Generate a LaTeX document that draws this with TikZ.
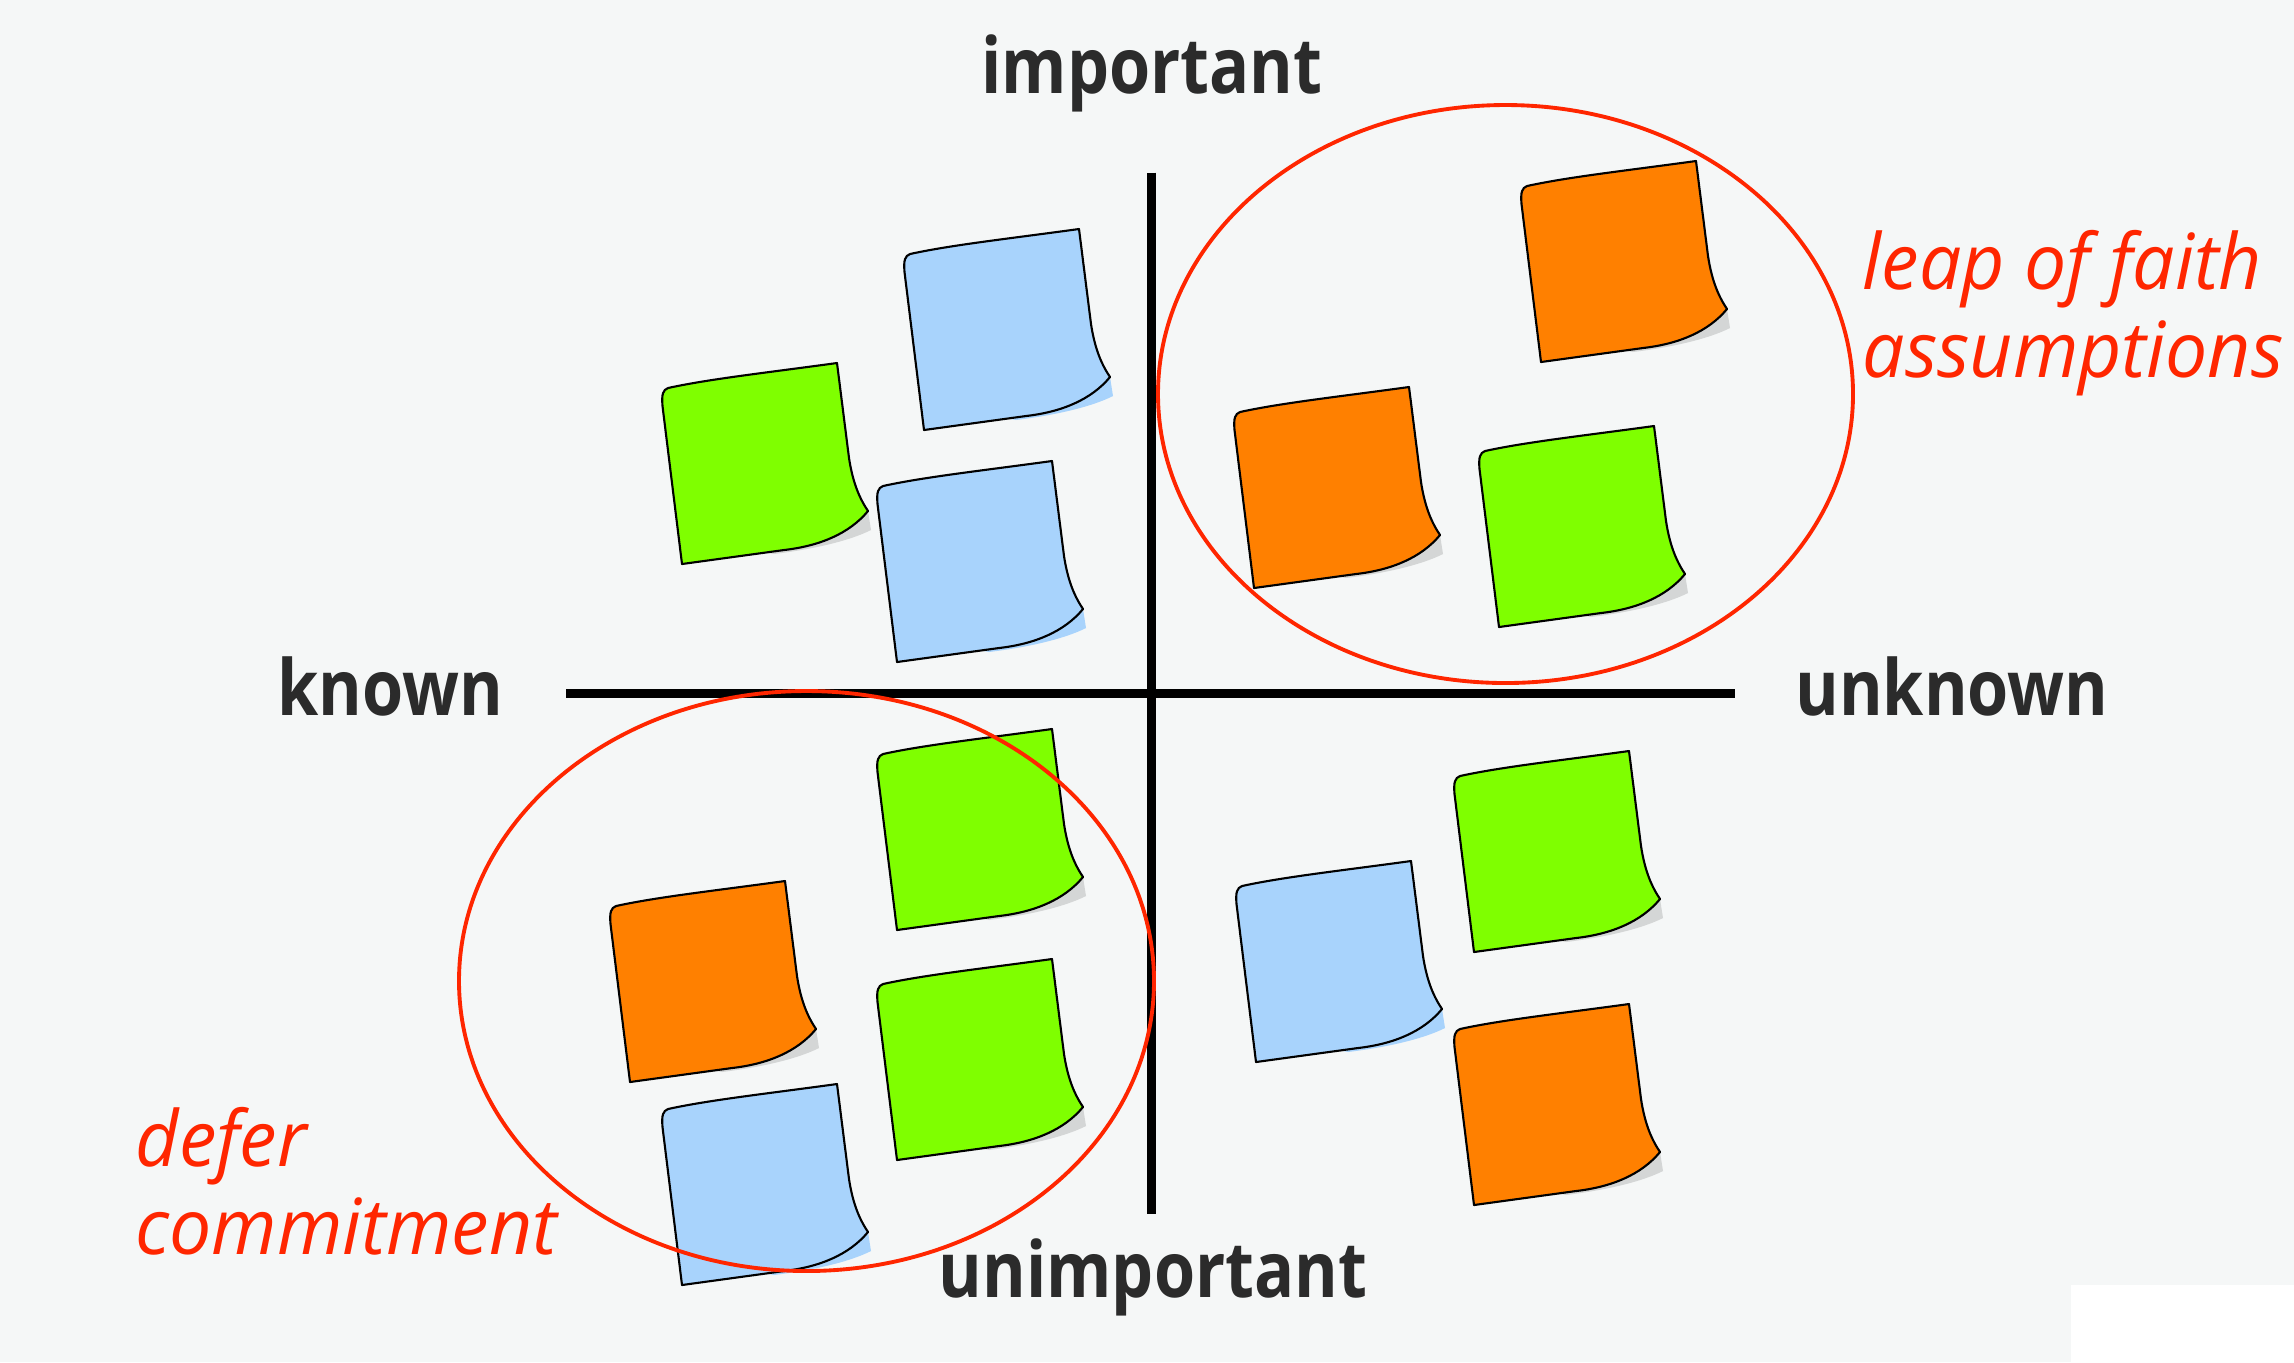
\documentclass[tikz,border=0pt]{standalone}
\usepackage{fontspec}
\newfontfamily\labfont{Open Sans}[FakeStretch=0.86]
\newfontfamily\redfont{Open Sans}[FakeStretch=0.97]
\definecolor{bgc}{RGB}{245,247,247}
\definecolor{txt}{RGB}{43,43,43}
\definecolor{redc}{RGB}{255,38,0}
\definecolor{ngreen}{RGB}{127,255,0}
\definecolor{nblue}{RGB}{168,211,252}
\definecolor{norange}{RGB}{255,128,0}
\definecolor{shgray}{RGB}{212,214,214}
\tikzset{
  pics/note/.style 2 args={code={
    \fill[#2] (190,95) -- (204,122) -- (207,141) .. controls (185,152) and (150,160) .. (110,165) -- (100,163) -- cycle;
    \filldraw[fill=#1, draw=black, line width=0.6pt, line join=round]
      (-1.5,17) .. controls (-2.5,5) and (-1,1) .. (4,-1)
      .. controls (45,-10) and (100,-16) .. (173,-26)
      -- (185,69) .. controls (189,95) and (196,110) .. (204,122)
      .. controls (185,145) and (155,157) .. (120,161)
      -- (18,175) -- cycle;
  }},
  lab/.style={font=\labfont\bfseries\fontsize{22}{25}\selectfont, text=txt, anchor=base, inner sep=0pt},
  redtxt/.style={font=\redfont\itshape\fontsize{22}{25}\selectfont, text=redc, anchor=base west, inner sep=0pt},
  axisline/.style={line width=2.7pt, draw=black},
  ring/.style={draw=redc, line width=1.1pt}
}
\begin{document}
\begin{tikzpicture}[x=0.01cm,y=-0.01cm]
\useasboundingbox (0,0) rectangle (2294,1362);
\fill[bgc] (0,0) rectangle (2294,1362);
\fill[white] (2071,1285) rectangle (2294,1362);
% notes, top-left quadrant
\pic at (664,389) {note={ngreen}{shgray}};
\pic at (906,255) {note={nblue}{nblue}};
\pic at (879,487) {note={nblue}{nblue}};
% top-right quadrant
\pic at (1523,187) {note={norange}{shgray}};
\pic at (1236,413) {note={norange}{shgray}};
\pic at (1481,452) {note={ngreen}{shgray}};
% bottom-left quadrant
\pic at (879,755) {note={ngreen}{shgray}};
\pic at (612,907) {note={norange}{shgray}};
\pic at (879,985) {note={ngreen}{shgray}};
\pic at (664,1110) {note={nblue}{nblue}};
% bottom-right quadrant
\pic at (1238,887) {note={nblue}{nblue}};
\pic at (1456,777) {note={ngreen}{shgray}};
\pic at (1456,1030) {note={norange}{shgray}};
% axes
\coordinate (hl) at (566,693.5);
\coordinate (hr) at (1735,693.5);
\coordinate (vt) at (1151.5,172.6);
\coordinate (vb) at (1151.5,1214);
\draw[axisline] (hl) -- (hr);
\draw[axisline] (vt) -- (vb);
% labels
\node[lab] (important) at (1152,93) {important};
\node[lab] (unimportant) at (1153,1297) {unimportant};
\node[lab] (known) at (390,715) {known};
\node[lab] (unknown) at (1952,715) {unknown};
\node[redtxt] (leap1) at (1862,289) {leap of faith};
\node[redtxt] (leap2) at (1862,377) {assumptions};
\node[redtxt] (defer1) at (135,1166) {defer};
\node[redtxt] (defer2) at (135,1254) {commitment};
% circles
\draw[ring] (1505.5,394) ellipse [x radius=347.5, y radius=289];
\draw[ring] (806.5,981) ellipse [x radius=347.5, y radius=290];
\end{tikzpicture}
\end{document}
